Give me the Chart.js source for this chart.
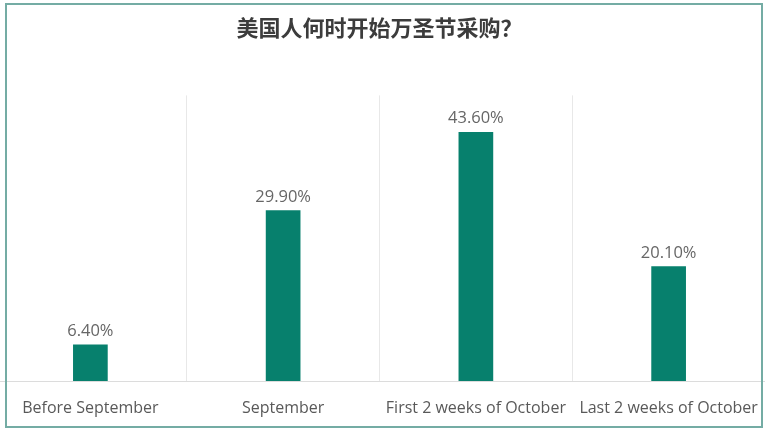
<!DOCTYPE html>
<html>
<head>
<meta charset="utf-8">
<script src="https://cdn.jsdelivr.net/npm/chart.js@4/dist/chart.umd.min.js"></script>
<style>
  html, body { margin: 0; padding: 0; background: #ffffff; overflow: hidden; }
  #wrap { position: absolute; left: -6px; top: 0; width: 771px; height: 432px; }
  #frame { position: absolute; left: 5px; top: 3px; width: 754px; height: 421px; border: 2px solid #74aca4; pointer-events: none; }
</style>
</head>
<body>
<div id="wrap"><canvas id="c" width="771" height="432"></canvas></div>
<div id="frame"></div>
<script>
const titleText = "美国人何时开始万圣节采购？";
const categories = ["Before September", "September", "First 2 weeks of October", "Last 2 weeks of October"];
const shares = [6.4, 29.9, 43.6, 20.1];

const valueLabels = {
  id: 'valueLabels',
  afterDatasetsDraw(chart) {
    const ctx = chart.ctx;
    const meta = chart.getDatasetMeta(0);
    ctx.save();
    ctx.font = '16.5px "Open Sans", "Noto Sans", sans-serif';
    ctx.fillStyle = '#666666';
    ctx.textAlign = 'center';
    ctx.textBaseline = 'bottom';
    meta.data.forEach((bar, i) => {
      ctx.fillText(shares[i].toFixed(2) + '%', bar.x, bar.y - 5);
    });
    ctx.restore();
  }
};

new Chart(document.getElementById('c'), {
  type: 'bar',
  data: {
    labels: categories,
    datasets: [{
      data: shares,
      backgroundColor: '#07806d',
      barPercentage: 0.18,
      categoryPercentage: 1.0
    }]
  },
  options: {
    responsive: false,
    animation: false,
    layout: { autoPadding: false, padding: 0 },
    plugins: {
      legend: { display: false },
      tooltip: { enabled: false },
      title: {
        display: true,
        text: titleText,
        color: '#3c3c3c',
        font: { family: '"Noto Sans CJK SC", sans-serif', size: 22, weight: 'bold' },
        padding: { top: 14, bottom: 55 }
      }
    },
    scales: {
      x: {
        grid: { display: true, color: '#e8e8e8', drawTicks: false, offset: true },
        border: { display: true, color: '#dcdcdc' },
        ticks: {
          color: '#595959',
          font: { family: '"Open Sans", "Noto Sans", sans-serif', size: 16 },
          padding: 18,
          maxRotation: 0,
          minRotation: 0,
          autoSkip: false
        },
        afterFit(scale) {
          scale.height = 51;
          scale.paddingLeft = 0;
          scale.paddingRight = 0;
        }
      },
      y: {
        display: false,
        min: 0,
        max: 50
      }
    }
  },
  plugins: [valueLabels]
});
</script>
</body>
</html>
